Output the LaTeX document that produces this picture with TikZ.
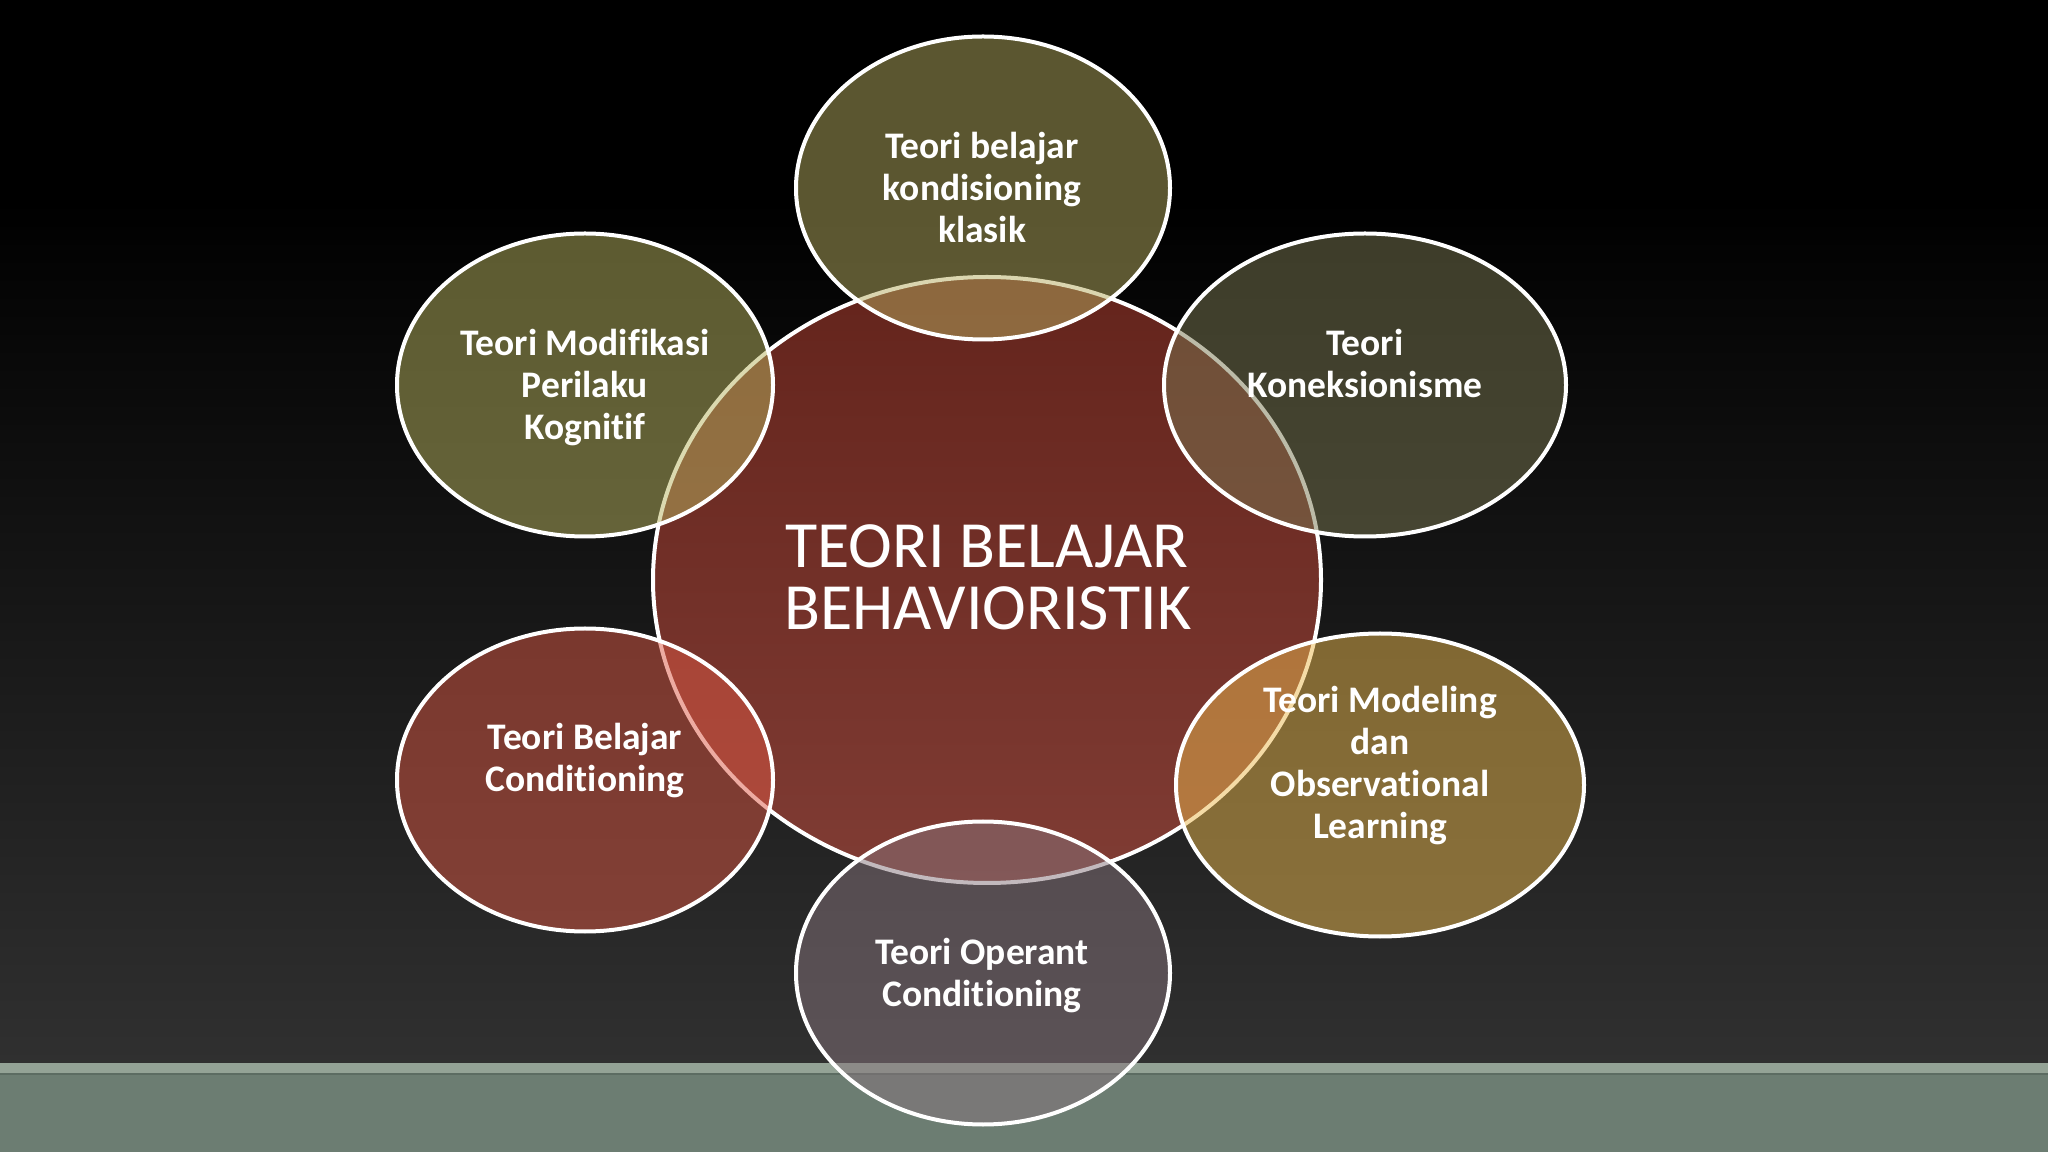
\documentclass[tikz,border=0pt]{standalone}
\usepackage{fontspec}
\setmainfont{Carlito}[Ligatures=CommonOff]
\usetikzlibrary{shapes.geometric}
\definecolor{bggray}{RGB}{48,48,48}
\definecolor{bandlight}{RGB}{148,163,150}
\definecolor{bandmain}{RGB}{108,125,114}
\definecolor{bandline}{RGB}{92,108,98}
\definecolor{coretop}{RGB}{100,36,28}
\definecolor{corebot}{RGB}{128,60,52}
\definecolor{ctop}{RGB}{182,172,96}
\definecolor{ctl}{RGB}{184,180,96}
\definecolor{ctr}{RGB}{122,120,82}
\definecolor{cbl}{RGB}{220,88,68}
\definecolor{cbr}{RGB}{234,184,78}
\definecolor{cbot}{RGB}{134,116,124}
\tikzset{
  sat/.style={ellipse, inner sep=0pt, draw=white, line width=4pt, fill opacity=0.5, draw opacity=1, minimum height=303pt},
  sattext/.style={text=white, font=\fontsize{37.5}{42}\selectfont\bfseries, align=center, inner sep=0pt},
  coretext/.style={text=white, font=\fontsize{66}{63}\selectfont, inner sep=0pt, anchor=base}
}
\begin{document}
\begin{tikzpicture}[x=1pt,y=1pt]
\useasboundingbox (0,0) rectangle (2048,1152);
\fill[black] (0,0) rectangle (2048,1152);
\shade[top color=black, bottom color=bggray] (0,89) rectangle (2048,952);
\fill[bandmain] (0,0) rectangle (2048,78);
\fill[bandlight] (0,78) rectangle (2048,89);
\draw[bandline, line width=1.5pt] (0,78) -- (2048,78);
% core
\node[ellipse, inner sep=0pt, draw=white, line width=4pt, top color=coretop, bottom color=corebot, minimum width=668pt, minimum height=606pt] (core) at (987,572) {};
% satellites
\node[sat, fill=ctop, minimum width=374pt] (top) at (983,964) {};
\node[sat, fill=ctl, minimum width=376pt] (tl) at (585,767) {};
\node[sat, fill=ctr, minimum width=402pt] (tr) at (1365,767) {};
\node[sat, fill=cbl, minimum width=376pt] (bl) at (585,372) {};
\node[sat, fill=cbr, minimum width=408pt] (br) at (1380,367) {};
\node[sat, fill=cbot, minimum width=374pt] (bot) at (983,179) {};
% texts
\node[sattext] (ttop) at (982,965) {Teori belajar\\kondisioning\\klasik};
\node[sattext] (ttl) at (585,764) {Teori Modifikasi\\Perilaku\\Kognitif};
\node[sattext] (ttr) at (1365,789) {Teori\\Koneksionisme};
\node[sattext] (tbl) at (585,391) {Teori Belajar\\Conditioning};
\node[sattext] (tbr) at (1380,386) {Teori Modeling\\dan\\Observational\\Learning};
\node[sattext] (tbot) at (982,176) {Teori Operant\\Conditioning};
\node[coretext] (c1) at (987,584.7) {TEORI BELAJAR};
\node[coretext] (c2) at (988,522.7) {BEHAVIORISTIK};
\end{tikzpicture}
\end{document}
